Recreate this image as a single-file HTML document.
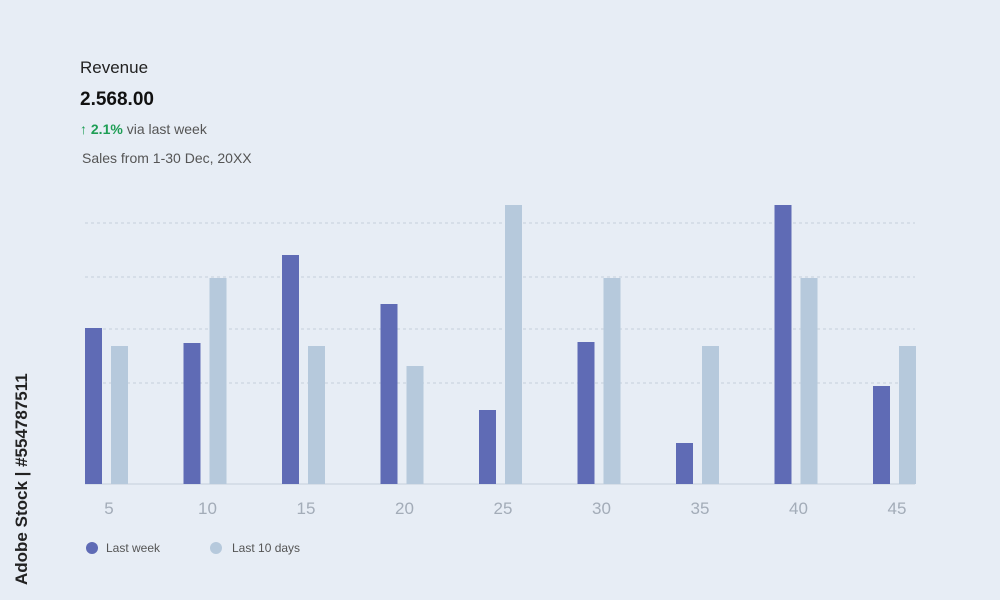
<!DOCTYPE html>
<html><head><meta charset="utf-8"><style>
body{margin:0;width:1000px;height:600px;background:#e7edf5;font-family:"Liberation Sans",sans-serif;overflow:hidden;position:relative}
.t{position:absolute;white-space:nowrap}
</style></head><body>
<div class="t" style="left:80px;top:58px;font-size:17px;color:#222">Revenue</div>
<div class="t" style="left:80px;top:89px;font-size:19px;font-weight:bold;color:#111">2.568.00</div>
<div class="t" style="left:80px;top:121px;font-size:14px;color:#555"><span style="color:#1e9e55;font-weight:bold">↑ 2.1%</span> via last week</div>
<div class="t" style="left:82px;top:150px;font-size:14px;color:#555">Sales from 1-30 Dec, 20XX</div>
<svg id="c" width="1000" height="600" style="position:absolute;left:0;top:0"></svg>
<script>
const categories=[5,10,15,20,25,30,35,40,45];
const lastWeek=[156,141,229,180,74,142,41,279,98];
const last10Days=[138,206,138,118,279,206,138,206,138];
const gridValues=[101,155,207,261];
const svg=document.getElementById('c');const NS='http://www.w3.org/2000/svg';
const base=484,yMax=280;
const y=v=>base-v*(280/yMax);
const x=c=>109+(c-5)*19.7;
function mk(t,a){const e=document.createElementNS(NS,t);for(const k in a)e.setAttribute(k,a[k]);svg.appendChild(e);return e;}
gridValues.forEach(g=>{const l=mk('line',{x1:85,x2:915,y1:y(g),y2:y(g),stroke:'#c5cfdb','stroke-dasharray':'3,3'});

});
const ax=mk('line',{x1:85,x2:915,y1:base,y2:base,stroke:'#c5cfdb'});


categories.forEach((c,i)=>{
const cx=x(c);
const b1=mk('rect',{x:cx-24,y:y(lastWeek[i]),width:17,height:base-y(lastWeek[i]),fill:'#5f6bb5'});


const b2=mk('rect',{x:cx+2,y:y(last10Days[i]),width:17,height:base-y(last10Days[i]),fill:'#b6c9dc'});


const t=mk('text',{x:cx,y:514,'text-anchor':'middle','font-size':17,fill:'#a3acb8','font-family':'Liberation Sans'});
t.textContent=c;


});
</script>
<div class="t" style="left:86px;top:541px;font-size:12px;color:#555"><span style="display:inline-block;width:12px;height:12px;border-radius:50%;background:#5f6bb5;vertical-align:-2px;margin-right:8px"></span>Last week</div>
<div class="t" style="left:210px;top:541px;font-size:12px;color:#555"><span style="display:inline-block;width:12px;height:12px;border-radius:50%;background:#b6c9dc;vertical-align:-2px;margin-right:10px"></span>Last 10 days</div>
<div class="t" style="left:12px;top:585px;transform:rotate(-90deg);transform-origin:0 0;font-size:17px;font-weight:bold;color:#222">Adobe Stock | #554787511</div>
</body></html>
